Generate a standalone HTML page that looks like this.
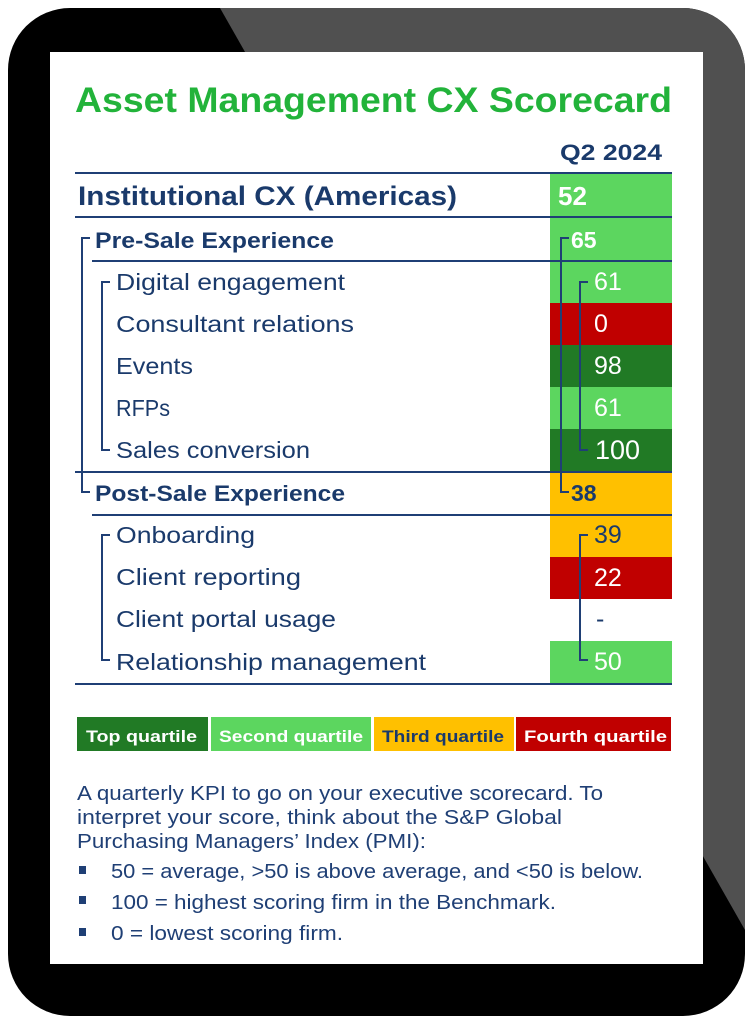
<!DOCTYPE html>
<html><head><meta charset="utf-8"><style>
html,body{margin:0;padding:0;background:#fff;}
svg{display:block;}
text{font-family:"Liberation Sans",sans-serif;}
</style></head><body>
<svg width="751" height="1024" viewBox="0 0 751 1024" xmlns="http://www.w3.org/2000/svg">
<defs><clipPath id="fr"><rect x="8" y="8" width="737" height="1008" rx="62"/></clipPath></defs>
<rect x="8" y="8" width="737" height="1008" rx="62" fill="#000"/>
<polygon points="220,8 745,8 745,930" fill="#505050" clip-path="url(#fr)"/>
<rect x="50" y="52" width="653" height="912" fill="#fff"/>

<text x="75" y="112" font-size="35" font-weight="bold" fill="#22b33a" textLength="597" lengthAdjust="spacingAndGlyphs">Asset Management CX Scorecard</text>
<text x="560" y="160" font-size="22" font-weight="bold" fill="#1a3a6b" textLength="102" lengthAdjust="spacingAndGlyphs">Q2 2024</text>

<!-- score cells -->
<rect x="550" y="174" width="122" height="86" fill="#5cd65f"/>
<rect x="550" y="261" width="122" height="42" fill="#5cd65f"/>
<rect x="550" y="303" width="122" height="42" fill="#c00000"/>
<rect x="550" y="345" width="122" height="42" fill="#217a25"/>
<rect x="550" y="387" width="122" height="42" fill="#5cd65f"/>
<rect x="550" y="429" width="122" height="43" fill="#217a25"/>
<rect x="550" y="472" width="122" height="85" fill="#ffc000"/>
<rect x="550" y="557" width="122" height="42" fill="#c00000"/>
<rect x="550" y="641" width="122" height="43" fill="#5cd65f"/>

<!-- lines -->
<g stroke="#1f3f75" stroke-width="2">
<line x1="75" y1="173" x2="672" y2="173"/>
<line x1="75" y1="217" x2="672" y2="217"/>
<line x1="92" y1="261" x2="672" y2="261"/>
<line x1="75" y1="472" x2="672" y2="472"/>
<line x1="92" y1="515" x2="672" y2="515"/>
<line x1="75" y1="684" x2="672" y2="684"/>
</g>
<g stroke="#1f3f75" stroke-width="2" fill="none">
<polyline points="90,238 82,238 82,492 90,492"/>
<polyline points="110,282 102,282 102,450 110,450"/>
<polyline points="110,535 102,535 102,660 110,660"/>
<polyline points="569,238 561,238 561,492 569,492"/>
<polyline points="588,282 580,282 580,450 588,450"/>
<polyline points="588,535 580,535 580,660 588,660"/>
</g>

<g fill="#1a3a6b">
<text x="78" y="205" font-size="27" font-weight="bold" textLength="379" lengthAdjust="spacingAndGlyphs">Institutional CX (Americas)</text>
<text x="95" y="248" font-size="22" font-weight="bold" textLength="239" lengthAdjust="spacingAndGlyphs">Pre-Sale Experience</text>
<text x="116" y="290" font-size="23" textLength="229" lengthAdjust="spacingAndGlyphs">Digital engagement</text>
<text x="116" y="332" font-size="23" textLength="238" lengthAdjust="spacingAndGlyphs">Consultant relations</text>
<text x="116" y="374" font-size="23" textLength="77" lengthAdjust="spacingAndGlyphs">Events</text>
<text x="116" y="416" font-size="23" textLength="54" lengthAdjust="spacingAndGlyphs">RFPs</text>
<text x="116" y="458" font-size="23" textLength="194" lengthAdjust="spacingAndGlyphs">Sales conversion</text>
<text x="95" y="501" font-size="22" font-weight="bold" textLength="250" lengthAdjust="spacingAndGlyphs">Post-Sale Experience</text>
<text x="116" y="543" font-size="23" textLength="139" lengthAdjust="spacingAndGlyphs">Onboarding</text>
<text x="116" y="585" font-size="23" textLength="185" lengthAdjust="spacingAndGlyphs">Client reporting</text>
<text x="116" y="627" font-size="23" textLength="220" lengthAdjust="spacingAndGlyphs">Client portal usage</text>
<text x="116" y="670" font-size="23" textLength="310" lengthAdjust="spacingAndGlyphs">Relationship management</text>
</g>

<g font-size="25">
<text x="558" y="205" font-size="26" font-weight="bold" fill="#fff">52</text>
<text x="571" y="248" font-weight="bold" font-size="23" fill="#fff">65</text>
<text x="594" y="290" fill="#fff">61</text>
<text x="594" y="332" fill="#fff">0</text>
<text x="594" y="374" fill="#fff">98</text>
<text x="594" y="416" fill="#fff">61</text>
<text x="595" y="459" fill="#fff" font-size="27">100</text>
<text x="571" y="501" font-weight="bold" font-size="23" fill="#1a3a6b">38</text>
<text x="594" y="543" fill="#1a3a6b">39</text>
<text x="594" y="586" fill="#fff">22</text>
<text x="596" y="627" fill="#1a3a6b">-</text>
<text x="594" y="670" fill="#fff">50</text>
</g>

<!-- legend -->
<rect x="77" y="717" width="131" height="34" fill="#217a25"/>
<rect x="211" y="717" width="160" height="34" fill="#5cd65f"/>
<rect x="374" y="717" width="140" height="34" fill="#ffc000"/>
<rect x="516" y="717" width="155" height="34" fill="#c00000"/>
<g font-size="17" font-weight="bold">
<text x="86" y="742" fill="#fff" textLength="111" lengthAdjust="spacingAndGlyphs">Top quartile</text>
<text x="219" y="742" fill="#fff" textLength="144" lengthAdjust="spacingAndGlyphs">Second quartile</text>
<text x="382" y="742" fill="#1a3a6b" textLength="122" lengthAdjust="spacingAndGlyphs">Third quartile</text>
<text x="524" y="742" fill="#fff" textLength="143" lengthAdjust="spacingAndGlyphs">Fourth quartile</text>
</g>

<g fill="#1f3f75" font-size="20">
<text x="77" y="800" textLength="526" lengthAdjust="spacingAndGlyphs">A quarterly KPI to go on your executive scorecard. To</text>
<text x="77" y="824" textLength="485" lengthAdjust="spacingAndGlyphs">interpret your score, think about the S&amp;P Global</text>
<text x="77" y="848" textLength="349" lengthAdjust="spacingAndGlyphs">Purchasing Managers’ Index (PMI):</text>
<rect x="79" y="866" width="7" height="8"/>
<rect x="79" y="896" width="7" height="8"/>
<rect x="79" y="928" width="7" height="8"/>
<text x="111" y="878" textLength="532" lengthAdjust="spacingAndGlyphs">50 = average, &gt;50 is above average, and &lt;50 is below.</text>
<text x="111" y="909" textLength="445" lengthAdjust="spacingAndGlyphs">100 = highest scoring firm in the Benchmark.</text>
<text x="111" y="940" textLength="232" lengthAdjust="spacingAndGlyphs">0 = lowest scoring firm.</text>
</g>
</svg>
</body></html>
